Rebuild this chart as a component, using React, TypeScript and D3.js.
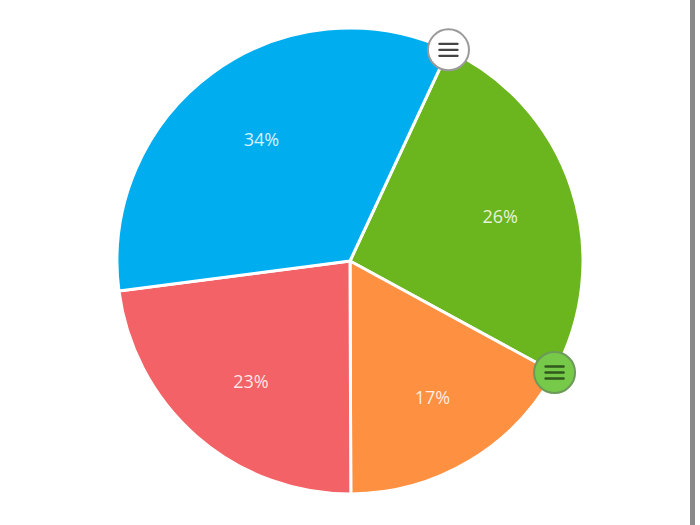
import * as d3 from "d3";

const WIDTH = 700;
const HEIGHT = 525;
const CENTER = { x: 350, y: 261 };
const RADIUS = 233;
const START_ANGLE = (25 * Math.PI) / 180;

const categories = ["Green", "Orange", "Red", "Blue"];
const values = [26, 17, 23, 34];
const colors = ["#6bb51e", "#fd9041", "#f26266", "#00aeef"];

type Slice = d3.PieArcDatum<number>;

const MenuButton = ({ x, y, fill, stroke, line }: { x: number; y: number; fill: string; stroke: string; line: string }) => (
  <g transform={`translate(${x},${y})`}>
    <circle r={20.5} fill={fill} stroke={stroke} strokeWidth={2} />
    {[-6, 0, 6].map((dy) => (
      <line key={dy} x1={-9} x2={9} y1={dy} y2={dy} stroke={line} strokeWidth={2.4} strokeLinecap="round" />
    ))}
  </g>
);

export default function App() {
  const pie = d3
    .pie<number>()
    .sort(null)
    .value((d) => d)
    .startAngle(START_ANGLE)
    .endAngle(START_ANGLE + 2 * Math.PI);
  const slices: Slice[] = pie(values);

  const arc = d3.arc<Slice>().innerRadius(0).outerRadius(RADIUS);
  const labelArc = d3.arc<Slice>().innerRadius(155).outerRadius(155);

  // a point on the outer edge for a given angle
  const edge = (a: number) => [Math.sin(a) * RADIUS, -Math.cos(a) * RADIUS];
  const [bx1, by1] = edge(slices[0].startAngle);
  const [bx2, by2] = edge(slices[0].endAngle);

  return (
    <svg
      width={WIDTH}
      height={HEIGHT}
      style={{ position: "absolute", left: 0, top: 0, background: "#ffffff" }}
    >
      <rect x={690} y={0} width={5} height={HEIGHT} fill="#8a8a8a" />
      <g transform={`translate(${CENTER.x},${CENTER.y})`}>
        {slices.map((s, i) => (
          <path key={categories[i]} d={arc(s) ?? ""} fill={colors[i]} stroke="#ffffff" strokeWidth={3} strokeLinejoin="round" />
        ))}
        {slices.map((s, i) => {
          const [lx, ly] = labelArc.centroid(s);
          return (
            <text
              key={categories[i] + "-label"}
              x={lx + 3}
              y={ly + 3}
              textAnchor="middle"
              dominantBaseline="central"
              fill="#ffffff"
              fillOpacity={0.85}
              fontFamily="'Open Sans', sans-serif"
              fontSize={18}
            >
              {`${values[i]}%`}
            </text>
          );
        })}
        <MenuButton x={bx1} y={by1} fill="#ffffff" stroke="#9a9a9a" line="#444444" />
        <MenuButton x={bx2} y={by2} fill="#77c94a" stroke="#6c9a58" line="#2f5a1c" />
      </g>
    </svg>
  );
}
